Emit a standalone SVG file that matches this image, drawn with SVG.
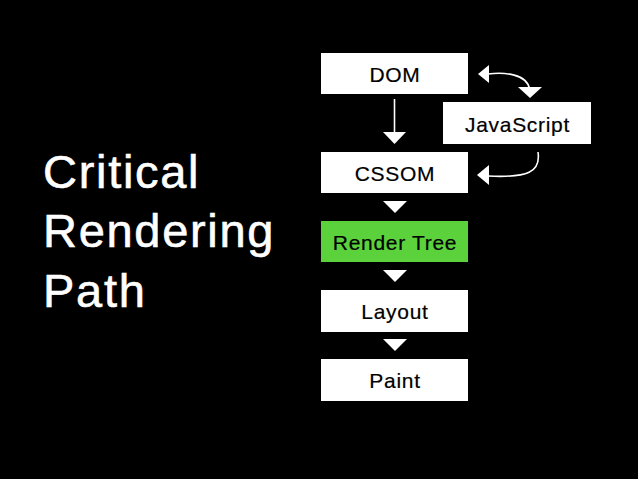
<svg xmlns="http://www.w3.org/2000/svg" width="638" height="479" viewBox="0 0 638 479">
<style>
.box{fill:#ffffff}
.green{fill:#5bd13c}
.lbl{font-family:"Liberation Sans",Arial,sans-serif;font-size:21px;fill:#000;stroke:#000;stroke-width:0.2;text-anchor:middle;letter-spacing:0.7px}
.title{font-family:"Liberation Sans",Arial,sans-serif;font-size:47px;fill:#fff;stroke:#fff;stroke-width:0.6;letter-spacing:1.7px}
.line{fill:none;stroke:#fff;stroke-width:1.6}
.head{fill:#fff}
</style>
<rect width="638" height="479" fill="#000"/>
<g id="title">
<text class="title" x="43" y="188">Critical</text>
<text class="title" x="43" y="247">Rendering</text>
<text class="title" x="43" y="307">Path</text>
</g>
<g id="connectors">
<line class="line" x1="394.5" y1="99" x2="394.5" y2="133"/>
<polygon class="head" points="383,132 406,132 394.5,144"/>
<polygon class="head" points="383,201 407,201 395,213"/>
<polygon class="head" points="383,270 407,270 395,282"/>
<polygon class="head" points="383,339 407,339 395,351"/>
<path class="line" d="M488,74 C505,72 527,74 529.5,89"/>
<polygon class="head" points="478,74 489,65 489,83"/>
<polygon class="head" points="518,87 542,87 530,98"/>
<path class="line" d="M538,152 C541,172 528,178 488,176"/>
<polygon class="head" points="477,175 489,165 489,185"/>
</g>
<g id="dom">
<rect class="box" x="321" y="53" width="147" height="41"/>
<text class="lbl" x="395" y="82">DOM</text>
</g>
<g id="javascript">
<rect class="box" x="443" y="102" width="148" height="42"/>
<text class="lbl" x="517.5" y="132">JavaScript</text>
</g>
<g id="cssom">
<rect class="box" x="321" y="152" width="147" height="41"/>
<text class="lbl" x="395" y="181">CSSOM</text>
</g>
<g id="render-tree">
<rect class="green" x="321" y="221" width="147" height="41"/>
<text class="lbl" x="395" y="250">Render Tree</text>
</g>
<g id="layout">
<rect class="box" x="321" y="290" width="147" height="42"/>
<text class="lbl" x="395" y="319">Layout</text>
</g>
<g id="paint">
<rect class="box" x="321" y="359" width="147" height="42"/>
<text class="lbl" x="395" y="388">Paint</text>
</g>
</svg>
